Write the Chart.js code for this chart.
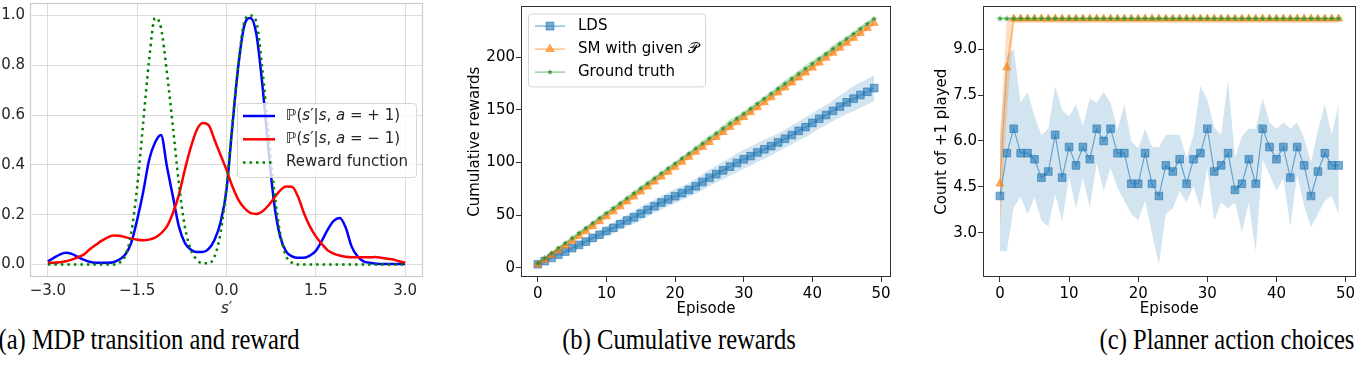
<!DOCTYPE html>
<html>
<head>
<meta charset="utf-8">
<script src="https://cdn.jsdelivr.net/npm/chart.js@4.4.1/dist/chart.umd.min.js"></script>
<style>
  body { margin: 0; background: #fff; width: 1362px; height: 367px; position: relative; overflow: hidden; }
  canvas { position: absolute; top: 0; }
  .cap { position: absolute; top: 324px; width: 500px; text-align: center; font-family: 'Liberation Serif', serif;
         font-size: 30px; line-height: 30px; transform: scaleX(0.82); white-space: nowrap; color: #000; }
</style>
</head>
<body>
<canvas id="mdpChart" width="440" height="320" style="left:0px"></canvas>
<canvas id="cumChart" width="460" height="320" style="left:440px"></canvas>
<canvas id="countChart" width="462" height="320" style="left:900px"></canvas>
<div class="cap" style="left:-101px">(a) MDP transition and reward</div>
<div class="cap" style="left:429px">(b) Cumulative rewards</div>
<div class="cap" style="left:977px">(c) Planner action choices</div>
<script>
// ---- (a) MDP transition and reward ----
const sValues = [-3.0, -2.9, -2.8, -2.7, -2.6, -2.5, -2.4, -2.3, -2.2, -2.1,
  -2.0, -1.9, -1.8, -1.7, -1.6, -1.5, -1.4, -1.3, -1.2, -1.1,
  -1.0, -0.9, -0.8, -0.7, -0.6, -0.5, -0.4, -0.3, -0.2, -0.1,
  0.0, 0.1, 0.2, 0.3, 0.4, 0.5, 0.6, 0.7, 0.8, 0.9,
  1.0, 1.1, 1.2, 1.3, 1.4, 1.5, 1.6, 1.7, 1.8, 1.9,
  2.0, 2.1, 2.2, 2.3, 2.4, 2.5, 2.6, 2.7, 2.8, 2.9, 3.0];
const pPlus = [0.013, 0.027, 0.040, 0.047, 0.043, 0.031, 0.020, 0.011, 0.007, 0.007,
  0.007, 0.009, 0.020, 0.040, 0.087, 0.180, 0.290, 0.420, 0.490, 0.520,
  0.393, 0.273, 0.153, 0.087, 0.060, 0.050, 0.050, 0.063, 0.100, 0.170,
  0.300, 0.560, 0.800, 0.960, 0.990, 0.927, 0.727, 0.473, 0.247, 0.113,
  0.053, 0.033, 0.027, 0.027, 0.036, 0.055, 0.095, 0.140, 0.175, 0.187,
  0.150, 0.073, 0.033, 0.013, 0.007, 0.004, 0.002, 0.002, 0.002, 0.002, 0.002];
const pMinus = [0.007, 0.007, 0.009, 0.013, 0.020, 0.029, 0.040, 0.060, 0.078, 0.095,
  0.108, 0.117, 0.116, 0.110, 0.104, 0.100, 0.098, 0.100, 0.108, 0.125,
  0.153, 0.207, 0.280, 0.380, 0.470, 0.540, 0.568, 0.560, 0.500, 0.440,
  0.380, 0.313, 0.260, 0.227, 0.207, 0.203, 0.213, 0.236, 0.267, 0.297,
  0.313, 0.312, 0.273, 0.207, 0.153, 0.113, 0.083, 0.057, 0.044, 0.036,
  0.031, 0.029, 0.029, 0.029, 0.029, 0.030, 0.027, 0.023, 0.020, 0.013, 0.007];
const rewardFn = [0, 0, 0, 0, 0, 0, 0, 0, 0, 0,
  0, 0, 0.007, 0.035, 0.127, 0.313, 0.567, 0.820, 0.990, 0.950,
  0.770, 0.553, 0.327, 0.153, 0.060, 0.020, 0.005, 0.005, 0.033, 0.127,
  0.313, 0.567, 0.807, 0.975, 1.000, 0.975, 0.790, 0.540, 0.300, 0.127,
  0.035, 0.007, 0, 0, 0, 0, 0, 0, 0, 0,
  0, 0, 0, 0, 0, 0, 0, 0, 0, 0, 0];
const sTicks = [-3.0, -1.5, 0.0, 1.5, 3.0];
const probTicks = [0.0, 0.2, 0.4, 0.6, 0.8, 1.0];
const mdpLabels = [
  [['ℙ(', ''], ['s', 'i'], ['′|', ''], ['s', 'i'], [', ', ''], ['a', 'i'], [' = + 1)', '']],
  [['ℙ(', ''], ['s', 'i'], ['′|', ''], ['s', 'i'], [', ', ''], ['a', 'i'], [' = − 1)', '']],
  [['Reward function', '']]
];

// ---- (b) cumulative rewards ----
const episodes = [0, 1, 2, 3, 4, 5, 6, 7, 8, 9, 10, 11, 12, 13, 14, 15, 16, 17, 18, 19,
  20, 21, 22, 23, 24, 25, 26, 27, 28, 29, 30, 31, 32, 33, 34, 35, 36, 37, 38, 39,
  40, 41, 42, 43, 44, 45, 46, 47, 48, 49];
const ldsCum = [3.5, 6.5, 9.5, 12.5, 15.5, 18.8, 21.8, 25, 28.5, 31.5,
  35, 38, 41.5, 45, 48, 51.5, 55, 58.5, 62, 65,
  68, 71, 74, 77.5, 81.5, 85.5, 89, 92.5, 96, 99.5,
  103, 106, 109.5, 112.5, 115.5, 119, 122.5, 126, 130, 133.5,
  137.5, 141.5, 145, 149, 153, 157, 160.5, 164, 167, 170.5];
const ldsSpread = [1.5, 2, 2, 2.5, 2.5, 3, 3, 3.5, 3.5, 4,
  4.5, 5, 5, 5.5, 6, 6.5, 6.5, 6.5, 6.5, 6.5,
  7, 6.5, 6.5, 7, 7.5, 8, 8, 8.5, 8.5, 9,
  9, 9, 9, 9, 9, 8.5, 8.5, 9, 9, 9.5,
  9.5, 9.5, 9.5, 10, 10.5, 11, 12, 12, 12, 12.5];
const smCum = [3.2, 7.6, 12, 16.5, 21, 25.5, 30.2, 34.8, 39.5, 44.2,
  48.8, 53.5, 58.2, 62.9, 67.6, 72.3, 77, 81.7, 86.4, 91.1,
  95.8, 100.5, 105.2, 109.9, 114.6, 119.3, 124, 128.7, 133.4, 138.1,
  142.8, 147.5, 152.2, 156.9, 161.6, 166.3, 171, 175.7, 180.4, 185.1,
  189.8, 194.5, 199.2, 203.9, 208.6, 213.3, 218, 222.7, 227.4, 232.1];
const smSpread = [1, 1.5, 1.5, 2, 2, 2, 2, 2.5, 2.5, 2.5,
  2.5, 2.5, 2.5, 2.5, 2.5, 2.5, 2.5, 2.5, 2.5, 2.5,
  2.5, 2.5, 2.5, 2.5, 2.5, 2.5, 2.5, 2.5, 2.5, 2.5,
  2.5, 2.5, 2.5, 2.5, 2.5, 2.5, 2.5, 2.5, 2.5, 2.5,
  2.5, 2.5, 2.5, 2.5, 2.5, 2.5, 2.5, 2.5, 2.5, 2.5];
const gtCum = [4.5, 9.3, 14, 18.8, 23.5, 28.2, 33, 37.8, 42.5, 47.3,
  52, 56.6, 61.3, 66, 70.8, 75.5, 80.2, 85, 89.7, 94.4,
  99, 103.8, 108.5, 113.3, 118, 122.8, 127.5, 132.3, 137, 141.6,
  146.3, 151, 155.8, 160.5, 165.3, 170, 174.7, 179.4, 184.2, 189,
  193.7, 198.4, 203, 207.8, 212.6, 217.3, 222, 226.8, 231.5, 236.2];
const gtSpread = [1, 1, 1.5, 1.5, 1.5, 2, 2, 2, 2, 2,
  2, 2, 2, 2, 2.5, 2.5, 2.5, 2, 2, 2,
  2, 2, 2, 2, 2.5, 2.5, 2.5, 3, 3.5, 3,
  2.5, 2.5, 2.5, 2.5, 2.5, 3, 3.5, 3, 3, 3.5,
  3, 2.5, 3, 3.5, 3, 2.5, 2.5, 2.5, 2.5, 2.5];
const episodeTicks = [0, 10, 20, 30, 40, 50];
const cumTicks = [0, 50, 100, 150, 200];
const cumLabels = [[['LDS', '']], [['SM with given ', ''], ['𝒫', '']], [['Ground truth', '']]];

// ---- (c) planner action choices ----
const ldsCount = [4.2, 5.6, 6.4, 5.6, 5.6, 5.4, 4.8, 5.0, 6.2, 4.8,
  5.8, 5.2, 5.8, 5.4, 6.4, 6.0, 6.4, 5.6, 5.6, 4.6,
  4.6, 5.6, 4.6, 4.2, 5.2, 5.0, 5.4, 4.6, 5.4, 5.6,
  6.4, 5.0, 5.2, 5.6, 4.4, 4.6, 5.4, 4.6, 6.4, 5.8,
  5.4, 5.8, 4.8, 5.8, 5.2, 4.2, 5.0, 5.6, 5.2, 5.2];
const ldsCountLow = [2.4, 2.4, 3.83, 4.17, 3.6, 4.15, 3.4, 3.2, 4.25, 3.37,
  4.84, 3.8, 4.79, 3.83, 5.27, 4.36, 5.11, 4.47, 4.04, 3.61,
  3.4, 4.04, 2.97, 1.95, 3.61, 3.8, 4.36, 3.99, 4.52, 3.8,
  5.1, 3.4, 3.99, 3.8, 3.99, 3.02, 3.99, 2.38, 5.38, 4.9,
  4.36, 4.79, 3.18, 4.9, 3.88, 3.18, 3.6, 4.04, 4.2, 3.6];
const ldsCountHigh = [6.0, 8.8, 9.0, 7.25, 7.6, 6.8, 6.2, 6.4, 7.8, 7.0,
  6.8, 7.2, 6.5, 7.4, 7.25, 7.6, 7.25, 6.35, 7.2, 6.0,
  5.75, 6.4, 5.8, 5.8, 6.2, 6.2, 6.2, 5.45, 6.2, 7.8,
  7.35, 6.45, 6.2, 8.0, 5.45, 6.15, 6.4, 6.4, 7.4, 6.6,
  6.4, 6.6, 6.4, 6.6, 6.1, 5.3, 6.35, 7.2, 6.2, 7.2];
const smCount = [4.6, 8.4, 10, 10, 10, 10, 10, 10, 10, 10,
  10, 10, 10, 10, 10, 10, 10, 10, 10, 10,
  10, 10, 10, 10, 10, 10, 10, 10, 10, 10,
  10, 10, 10, 10, 10, 10, 10, 10, 10, 10,
  10, 10, 10, 10, 10, 10, 10, 10, 10, 10];
const smCountLow = [3.0, 6.8, 9.86, 9.86, 9.86, 9.86, 9.86, 9.86, 9.86, 9.86,
  9.86, 9.86, 9.86, 9.86, 9.86, 9.86, 9.86, 9.86, 9.86, 9.86,
  9.86, 9.86, 9.86, 9.86, 9.86, 9.86, 9.86, 9.86, 9.86, 9.86,
  9.86, 9.86, 9.86, 9.86, 9.86, 9.86, 9.86, 9.86, 9.86, 9.86,
  9.86, 9.86, 9.86, 9.86, 9.86, 9.86, 9.86, 9.86, 9.86, 9.86];
const smCountHigh = [6.2, 10, 10, 10, 10, 10, 10, 10, 10, 10,
  10, 10, 10, 10, 10, 10, 10, 10, 10, 10,
  10, 10, 10, 10, 10, 10, 10, 10, 10, 10,
  10, 10, 10, 10, 10, 10, 10, 10, 10, 10,
  10, 10, 10, 10, 10, 10, 10, 10, 10, 10];
const gtCount = [10, 10, 10, 10, 10, 10, 10, 10, 10, 10,
  10, 10, 10, 10, 10, 10, 10, 10, 10, 10,
  10, 10, 10, 10, 10, 10, 10, 10, 10, 10,
  10, 10, 10, 10, 10, 10, 10, 10, 10, 10,
  10, 10, 10, 10, 10, 10, 10, 10, 10, 10];
const countTicks = [3.0, 4.5, 6.0, 7.5, 9.0];

// colours
const blue = 'rgba(31,119,180,0.6)', blueBand = 'rgba(31,119,180,0.2)';
const orange = 'rgba(255,127,14,0.6)', orangeBand = 'rgba(255,127,14,0.25)';
const green = 'rgba(44,160,44,0.6)', greenBand = 'rgba(44,160,44,0.25)';

function pts(xs, ys) { return xs.map((x, i) => ({ x: x, y: ys[i] })); }
function shift(ys, sp, sign) { return ys.map((v, i) => v + sign * sp[i]); }
function minus(txt) { return txt.replace('-', '\u2212'); }

function starMarker(size, color) {
  const c = document.createElement('canvas');
  c.width = size; c.height = size;
  const g = c.getContext('2d');
  const r = size / 2, ri = r * 0.42;
  g.beginPath();
  for (let k = 0; k < 10; k++) {
    const ang = -Math.PI / 2 + k * Math.PI / 5;
    const rr = k % 2 ? ri : r;
    g.lineTo(r + rr * Math.cos(ang), r + rr * Math.sin(ang));
  }
  g.closePath();
  g.fillStyle = color;
  g.fill();
  return c;
}

// fixed-size axis boxes so the plot areas line up with the reference
function fitX(h) {
  return (scale) => { scale.height = h; scale.paddingLeft = 0; scale.paddingRight = 0; };
}
function fitY(w) {
  return (scale) => { scale.width = w; scale.paddingTop = 0; scale.paddingBottom = 0; };
}
function setTicks(values) {
  return (scale) => { scale.ticks = values.map(v => ({ value: v })); };
}

const framePlugin = {
  id: 'frame',
  afterDatasetsDraw(chart, args, o) {
    const a = chart.chartArea, ctx = chart.ctx;
    ctx.save();
    ctx.strokeStyle = o.color;
    ctx.lineWidth = o.width;
    ctx.strokeRect(Math.round(a.left) + 0.5, Math.round(a.top) + 0.5,
      Math.round(a.right - a.left) - 1, Math.round(a.bottom - a.top) - 1);
    ctx.restore();
  }
};

const boxLegend = {
  id: 'boxLegend',
  afterDraw(chart, args, o) {
    if (!o.rows) return;
    const ctx = chart.ctx, a = chart.chartArea;
    const x0 = a.left + o.dx, y0 = a.top + o.dy;
    ctx.save();
    ctx.beginPath();
    ctx.roundRect(x0 + 0.5, y0 + 0.5, o.w, o.h, 3);
    ctx.fillStyle = 'rgba(255,255,255,0.8)';
    ctx.fill();
    ctx.strokeStyle = '#d6d6d6';
    ctx.lineWidth = 1;
    ctx.stroke();
    o.rows.forEach((row, i) => {
      const ds = chart.data.datasets[row.dataset];
      const cy = y0 + o.firstY + i * o.gap;
      const lx = x0 + o.lineX;
      ctx.setLineDash(ds.borderDash || []);
      ctx.strokeStyle = ds.borderColor;
      ctx.lineWidth = ds.borderWidth;
      ctx.beginPath();
      ctx.moveTo(lx, cy);
      ctx.lineTo(lx + o.lineLen, cy);
      ctx.stroke();
      ctx.setLineDash([]);
      if (ds.pointRadius) {
        ctx.fillStyle = ds.pointBackgroundColor;
        ctx.strokeStyle = ds.pointBorderColor;
        Chart.helpers.drawPoint(ctx, { pointStyle: ds.pointStyle, radius: ds.pointRadius, rotation: 0, borderWidth: 1 },
          lx + o.lineLen / 2, cy);
      }
      let tx = x0 + o.textX;
      ctx.fillStyle = o.color;
      ctx.textBaseline = 'middle';
      ctx.textAlign = 'left';
      row.text.forEach(([t, st]) => {
        ctx.font = (st === 'i' ? 'italic ' : '') + o.size + 'px "DejaVu Sans"';
        ctx.fillText(t, tx, cy);
        tx += ctx.measureText(t).width;
      });
    });
    ctx.restore();
  }
};

Chart.defaults.font.family = 'DejaVu Sans';
Chart.defaults.animation = false;
Chart.defaults.events = [];
Chart.defaults.plugins.legend.display = false;
Chart.defaults.plugins.tooltip.enabled = false;

const tickFont = { family: 'DejaVu Sans', size: 15 };

// ---------- chart (a) ----------
new Chart(document.getElementById('mdpChart'), {
  type: 'line',
  data: {
    datasets: [
      { label: 'P(s|s,a=+1)', data: pts(sValues, pPlus), borderColor: '#0000ff', borderWidth: 2.5,
        pointRadius: 0, cubicInterpolationMode: 'monotone', fill: false, order: 3 },
      { label: 'P(s|s,a=-1)', data: pts(sValues, pMinus), borderColor: '#ff0000', borderWidth: 2.5,
        pointRadius: 0, cubicInterpolationMode: 'monotone', fill: false, order: 2 },
      { label: 'Reward function', data: pts(sValues, rewardFn), borderColor: '#008000', borderWidth: 2.5,
        borderDash: [2.5, 4], pointRadius: 0, cubicInterpolationMode: 'monotone', fill: false, order: 1 }
    ]
  },
  options: {
    responsive: false,
    layout: { padding: { left: 0, top: 3, right: 17, bottom: 0 } },
    scales: {
      x: {
        type: 'linear', min: -3.3, max: 3.3,
        afterBuildTicks: setTicks(sTicks), afterFit: fitX(43),
        grid: { color: '#dcdcdc', drawTicks: false },
        border: { display: false },
        ticks: { font: tickFont, color: '#262626', padding: 5, maxRotation: 0, callback: v => minus(v.toFixed(1)) },
        title: { display: true, text: 's′', color: '#262626', font: { family: 'DejaVu Sans', size: 15, style: 'italic' },
                 padding: { top: 0, bottom: 2 } }
      },
      y: {
        min: -0.05, max: 1.05,
        afterBuildTicks: setTicks(probTicks), afterFit: fitY(30),
        grid: { color: '#dcdcdc', drawTicks: false },
        border: { display: false },
        ticks: { font: tickFont, color: '#262626', padding: 5, callback: v => v.toFixed(1) }
      }
    },
    plugins: {
      frame: { color: '#cccccc', width: 1.2 },
      boxLegend: {
        dx: 207, dy: 100, w: 179, h: 74, firstY: 13, gap: 23.3, lineX: 6, lineLen: 32, textX: 49,
        size: 15, color: '#262626',
        rows: [{ dataset: 0, text: mdpLabels[0] }, { dataset: 1, text: mdpLabels[1] }, { dataset: 2, text: mdpLabels[2] }]
      }
    }
  },
  plugins: [framePlugin, boxLegend]
});

// ---------- chart (b) ----------
function lineSet(label, xs, ys, color, style, radius, order) {
  return { label: label, data: pts(xs, ys), borderColor: color, borderWidth: 1.2, pointStyle: style,
    pointRadius: radius, pointBackgroundColor: color, pointBorderColor: color, pointBorderWidth: 1,
    fill: false, tension: 0, order: order };
}
function bandSet(xs, ys, fillTo, color, order) {
  return { data: pts(xs, ys), borderWidth: 0, borderColor: 'rgba(0,0,0,0)', pointRadius: 0,
    fill: fillTo === null ? false : { target: fillTo }, backgroundColor: color, tension: 0, order: order };
}

new Chart(document.getElementById('cumChart'), {
  type: 'line',
  data: {
    datasets: [
      lineSet('LDS', episodes, ldsCum, blue, 'rect', 5.4, 3),
      lineSet('SM with given P', episodes, smCum, orange, 'triangle', 4.6, 2),
      lineSet('Ground truth', episodes, gtCum, green, starMarker(6, 'rgba(44,140,44,0.9)'), 3, 1),
      bandSet(episodes, shift(ldsCum, ldsSpread, -1), null, blueBand, 12),
      bandSet(episodes, shift(ldsCum, ldsSpread, 1), 3, blueBand, 12),
      bandSet(episodes, shift(smCum, smSpread, -1), null, orangeBand, 11),
      bandSet(episodes, shift(smCum, smSpread, 1), 5, orangeBand, 11),
      bandSet(episodes, shift(gtCum, gtSpread, -1), null, greenBand, 10),
      bandSet(episodes, shift(gtCum, gtSpread, 1), 7, greenBand, 10)
    ]
  },
  options: {
    responsive: false,
    layout: { padding: { left: 0, top: 3, right: 9, bottom: 0 } },
    scales: {
      x: {
        type: 'linear', min: -2.45, max: 51.45,
        afterBuildTicks: setTicks(episodeTicks), afterFit: fitX(43),
        grid: { display: true, drawOnChartArea: false, drawTicks: true, tickLength: 5, tickColor: '#333' },
        border: { display: false },
        ticks: { font: tickFont, color: '#000', padding: 3, maxRotation: 0, callback: v => String(v) },
        title: { display: true, text: 'Episode', color: '#000', font: tickFont, padding: { top: 0, bottom: 2 } }
      },
      y: {
        min: -8.6, max: 248,
        afterBuildTicks: setTicks(cumTicks), afterFit: fitY(81),
        grid: { display: true, drawOnChartArea: false, drawTicks: true, tickLength: 5, tickColor: '#333' },
        border: { display: false },
        ticks: { font: tickFont, color: '#000', padding: 1, callback: v => String(v) },
        title: { display: true, text: 'Cumulative rewards', color: '#000', font: tickFont, padding: { top: 26, bottom: 0 } }
      }
    },
    plugins: {
      frame: { color: '#333333', width: 1 },
      boxLegend: {
        dx: 7, dy: 7, w: 177, h: 73, firstY: 12.7, gap: 23, lineX: 7, lineLen: 30, textX: 50,
        size: 15, color: '#000',
        rows: [{ dataset: 0, text: cumLabels[0] }, { dataset: 1, text: cumLabels[1] }, { dataset: 2, text: cumLabels[2] }]
      }
    }
  },
  plugins: [framePlugin, boxLegend]
});

// ---------- chart (c) ----------
new Chart(document.getElementById('countChart'), {
  type: 'line',
  data: {
    datasets: [
      lineSet('LDS', episodes, ldsCount, blue, 'rect', 5.4, 3),
      lineSet('SM with given P', episodes, smCount, orange, 'triangle', 4.6, 2),
      lineSet('Ground truth', episodes, gtCount, green, starMarker(7, 'rgba(44,150,44,0.85)'), 4, 1),
      bandSet(episodes, ldsCountLow, null, blueBand, 12),
      bandSet(episodes, ldsCountHigh, 3, blueBand, 12),
      bandSet(episodes, smCountLow, null, orangeBand, 11),
      bandSet(episodes, smCountHigh, 5, orangeBand, 11)
    ]
  },
  options: {
    responsive: false,
    layout: { padding: { left: 0, top: 3, right: 4, bottom: 0 } },
    scales: {
      x: {
        type: 'linear', min: -2.45, max: 51.45,
        afterBuildTicks: setTicks(episodeTicks), afterFit: fitX(43),
        grid: { display: true, drawOnChartArea: false, drawTicks: true, tickLength: 5, tickColor: '#333' },
        border: { display: false },
        ticks: { font: tickFont, color: '#000', padding: 3, maxRotation: 0, callback: v => String(v) },
        title: { display: true, text: 'Episode', color: '#000', font: tickFont, padding: { top: 0, bottom: 2 } }
      },
      y: {
        min: 1.55, max: 10.4,
        afterBuildTicks: setTicks(countTicks), afterFit: fitY(83),
        grid: { display: true, drawOnChartArea: false, drawTicks: true, tickLength: 5, tickColor: '#333' },
        border: { display: false },
        ticks: { font: tickFont, color: '#000', padding: 1, callback: v => v.toFixed(1) },
        title: { display: true, text: 'Count of +1 played', color: '#000', font: tickFont, padding: { top: 33, bottom: 0 } }
      }
    },
    plugins: {
      frame: { color: '#333333', width: 1 }
    }
  },
  plugins: [framePlugin]
});
</script>
</body>
</html>
